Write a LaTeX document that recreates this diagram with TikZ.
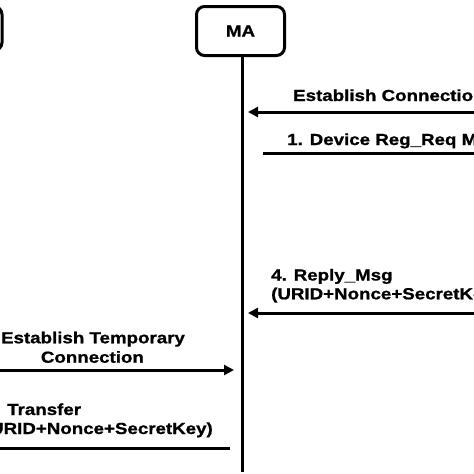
\documentclass[tikz,border=0pt]{standalone}
\usepackage{fontspec}
\setmainfont{Liberation Sans}[FakeStretch=1.17, BoldFeatures={FakeBold=1}]
\usetikzlibrary{arrows.meta}

\tikzset{
	actor/.style={draw, line width=3pt, rounded corners=8pt, minimum width=88pt, minimum height=49pt, inner sep=0pt},
	life/.style={line width=3pt},
	msg/.style={line width=3pt, -{Triangle[length=10pt, width=10pt]}},
	lbl/.style={inner sep=0pt, font=\bfseries\fontsize{16}{19}\selectfont}
}

\begin{document}
\begin{tikzpicture}[x=1pt, y=-1pt]
	\useasboundingbox (0,0) rectangle (474,474);
	\clip (0,0) rectangle (474,474);
	
	% Entities and lifelines
	\node[actor, minimum width=104pt, minimum height=44pt] (dev) at (-50,28.5) {};
	\node[actor, lbl] (ma) at (240.5,31) {MA};
	\coordinate (srv) at (720,31);
	\coordinate (maend) at (242,472);
	\draw[life] (ma.south -| maend) -- (maend);
	
	% Message heights
	\coordinate (m1) at (0,112);
	\coordinate (m2) at (0,153);
	\coordinate (m4) at (0,313);
	\coordinate (m5) at (0,370);
	\coordinate (m6) at (0,448);
	
	% Messages with the right side
	\draw[msg, shorten >=6pt] (srv |- m1) -- (maend |- m1);
	\node[lbl, anchor=base west] (conn) at (293,101) {Establish Connection};
	
	\draw[msg, shorten <=21pt] (maend |- m2) -- (srv |- m2);
	\node[lbl, anchor=base west] (req) at (287,145) {1. Device Reg\_Req Msg};
	
	\draw[msg, shorten >=6pt] (srv |- m4) -- (maend |- m4);
	\node[lbl, anchor=base west] (replyA) at (271,280.5) {4. Reply\_Msg};
	\node[lbl, anchor=base west] (replyB) at (271,299.3) {(URID+Nonce+SecretKey)};
	
	% Messages with the left side
	\draw[msg, shorten >=8pt] (dev |- m5) -- (maend |- m5);
	\node[lbl, anchor=base] (tempA) at (93,343.3) {Establish Temporary};
	\node[lbl, anchor=base] (tempB) at (92.4,362.7) {Connection};
	
	\draw[msg, shorten <=12pt] (maend |- m6) -- (dev |- m6);
	\node[lbl, anchor=base west] (transA) at (7,415) {Transfer};
	\node[lbl, anchor=base east] (transB) at (213,434) {(URID+Nonce+SecretKey)};
\end{tikzpicture}
\end{document}
